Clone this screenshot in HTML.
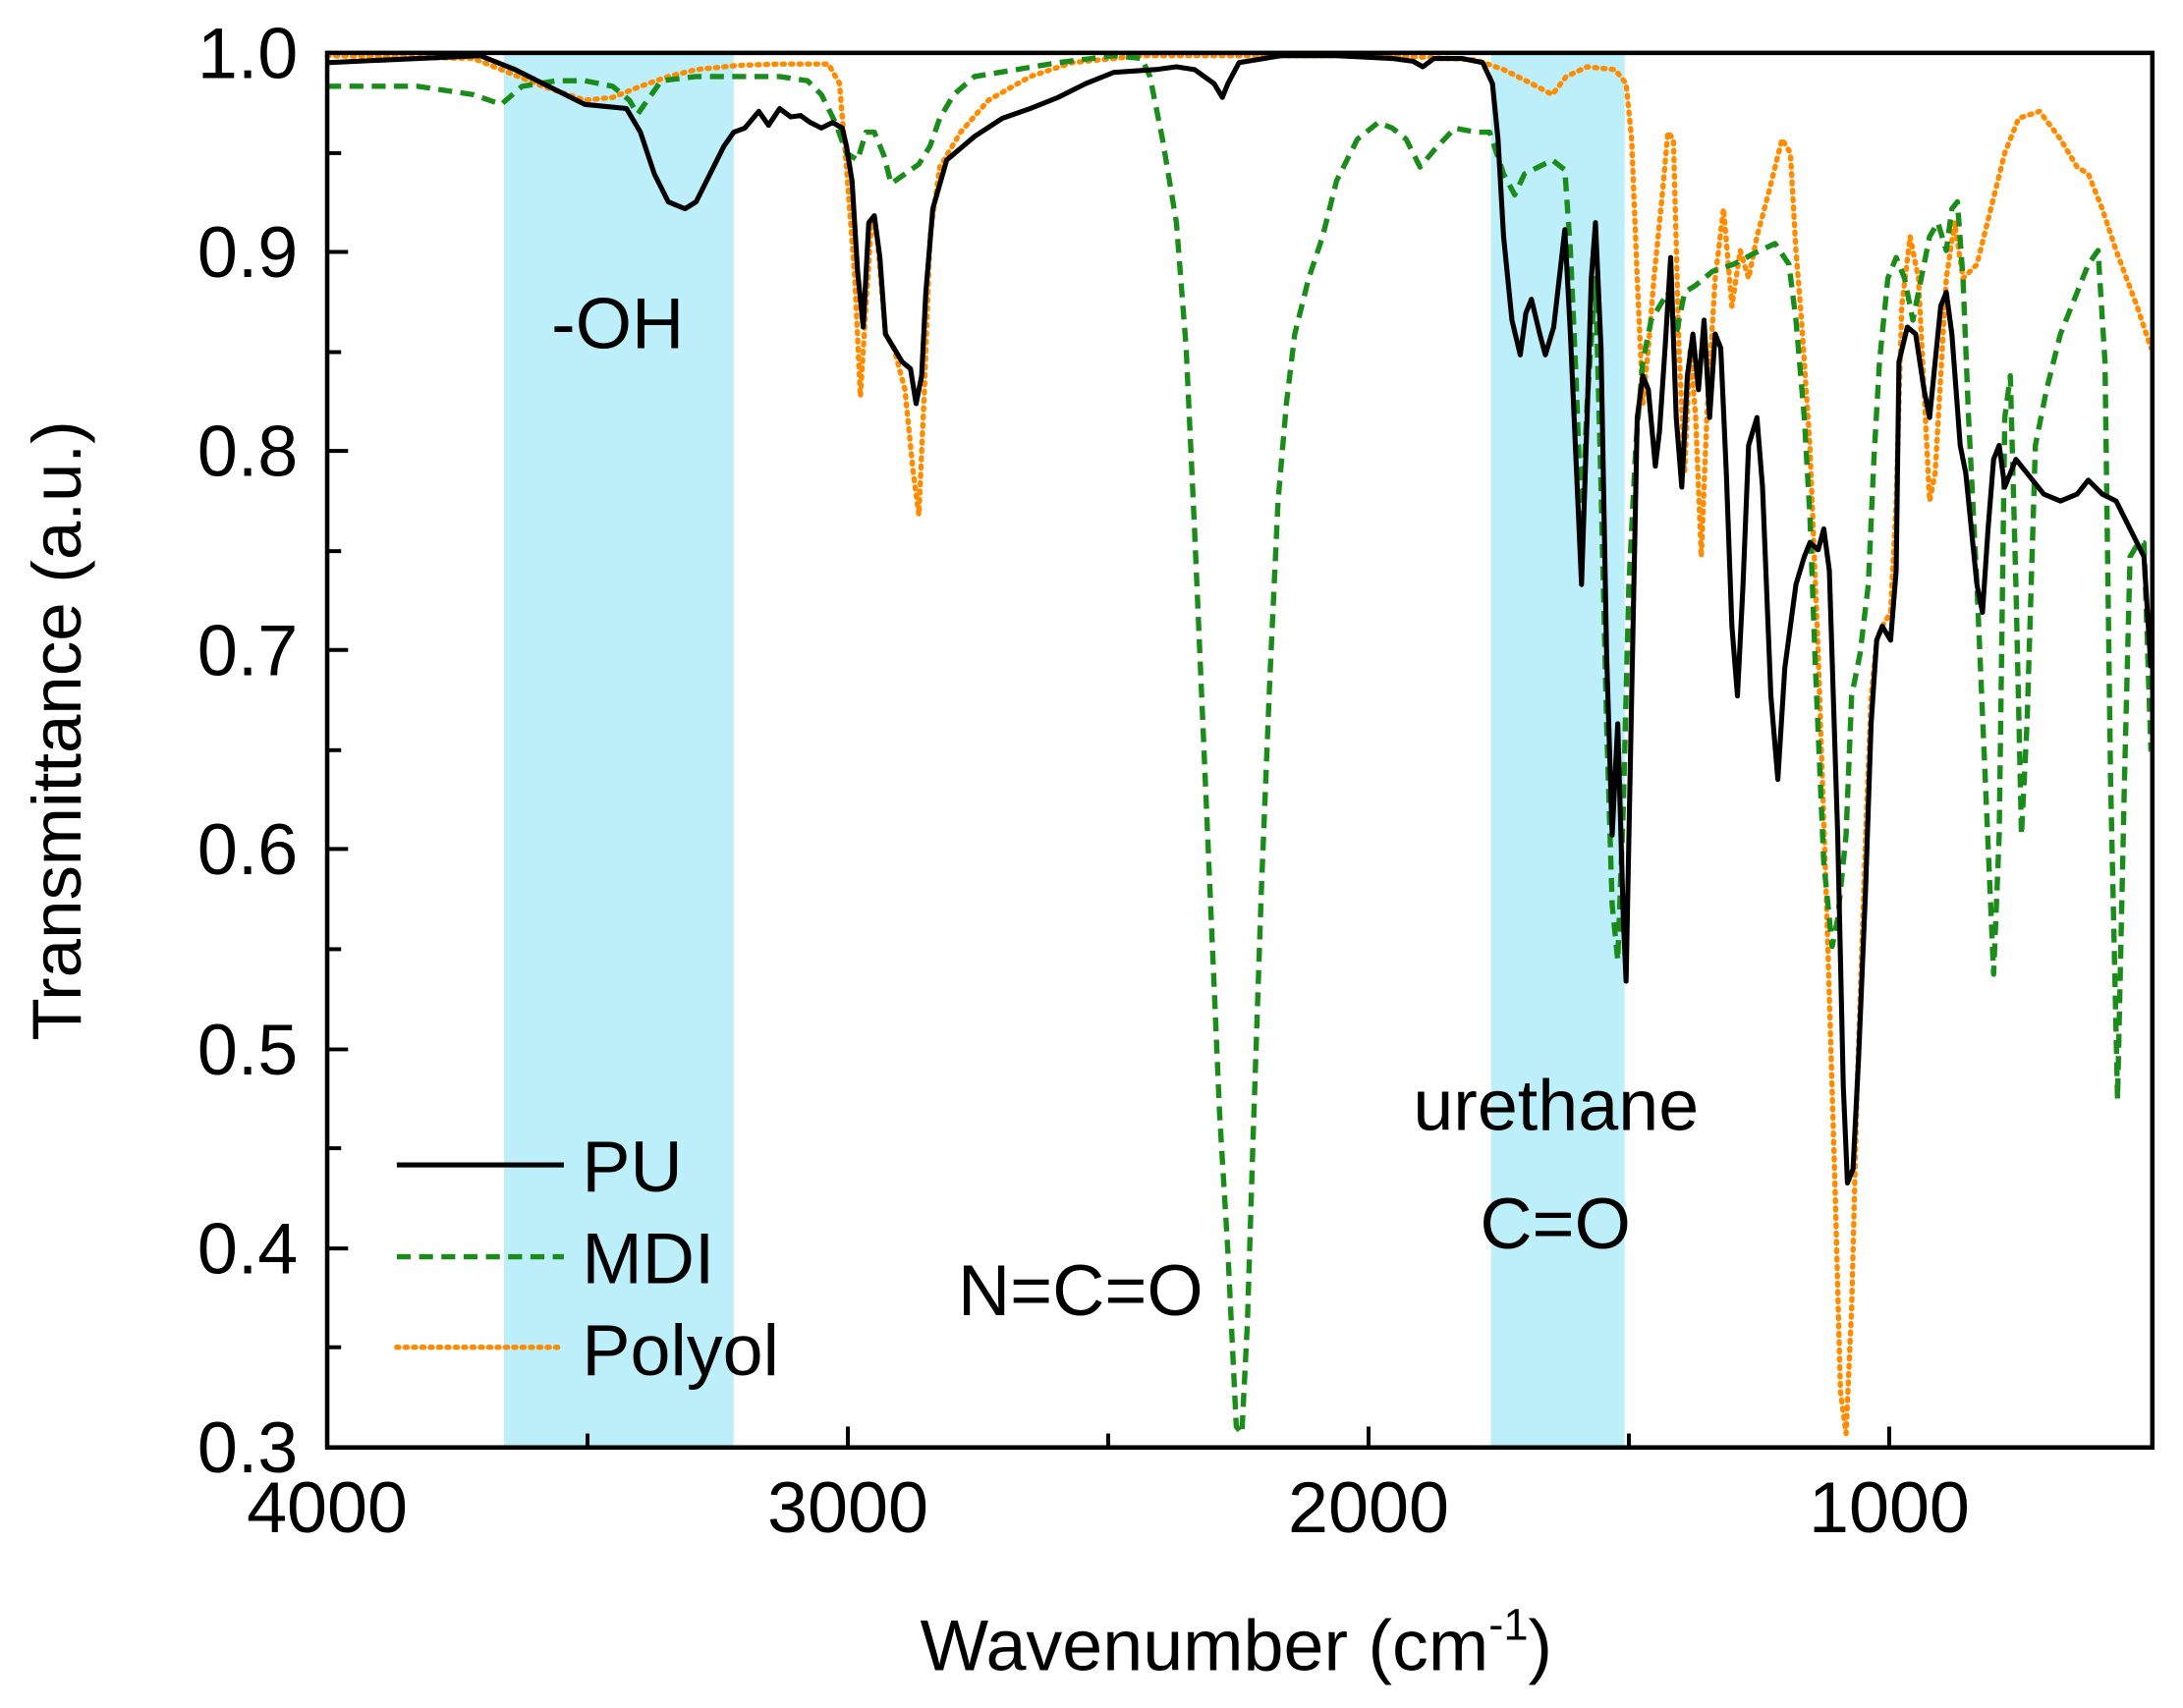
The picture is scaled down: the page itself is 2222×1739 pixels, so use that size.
<!DOCTYPE html>
<html><head><meta charset="utf-8"><style>html,body{margin:0;padding:0;background:#fff}svg{display:block}</style></head>
<body>
<svg width="2222" height="1739" viewBox="0 0 1568 1227.2" xmlns="http://www.w3.org/2000/svg" font-family="Liberation Sans, Arial, sans-serif">
<rect x="0" y="0" width="1568" height="1228" fill="#fff"/>
<rect x="362" y="38" width="165" height="1002" fill="#bdeffb"/>
<rect x="1071" y="38" width="96" height="1002" fill="#bdeffb"/>
<g fill="none" stroke-linejoin="round">
<polyline stroke="#ff8c00" stroke-width="3.8" stroke-dasharray="1.5,4.5" stroke-linecap="round" points="235,40 340,42 360,50 390,62 420,72 440,70 460,62 480,55 500,50 530,47 560,46 595,46 603,60 608,120 614,200 618,285 622,220 626,160 630,170 636,240 642,250 650,280 656,340 660,370 664,280 668,170 675,120 690,95 710,72 740,55 770,45 820,40 900,40 1000,40 1060,43 1080,50 1100,60 1115,68 1125,55 1140,48 1160,50 1168,60 1172,100 1176,200 1180,290 1184,250 1188,200 1194,140 1198,95 1202,100 1206,250 1210,340 1214,250 1218,300 1222,400 1226,300 1232,200 1238,150 1244,220 1250,180 1256,200 1262,170 1270,140 1280,100 1286,110 1290,180 1294,230 1300,320 1306,470 1312,650 1318,850 1322,1000 1326,1030 1330,940 1334,780 1340,600 1344,500 1348,460 1352,450 1358,440 1362,360 1366,220 1372,170 1378,200 1382,280 1386,360 1390,340 1394,270 1398,200 1404,160 1410,200 1420,190 1430,150 1440,110 1450,85 1465,80 1480,100 1492,120 1500,125 1510,150 1520,180 1535,220 1545,250"/>
<polyline stroke="#1a8c1a" stroke-width="3.8" stroke-dasharray="10,6" points="235,62 300,62 340,68 360,75 375,62 400,58 420,58 440,62 452,72 458,82 465,72 475,58 500,55 560,55 580,58 590,68 600,88 608,110 616,115 622,95 628,95 635,112 640,132 650,125 660,118 668,105 675,85 685,68 700,55 730,50 760,45 800,40 820,42 826,55 835,100 845,160 852,250 858,380 864,520 870,660 876,800 882,900 888,1025 892,1030 896,950 900,820 906,640 912,490 918,360 924,290 930,240 940,200 950,170 960,130 975,100 990,88 1000,92 1010,100 1020,120 1030,108 1045,92 1060,95 1070,95 1075,110 1080,125 1088,140 1095,125 1105,120 1115,115 1124,122 1128,180 1132,270 1136,380 1140,290 1146,200 1150,350 1154,520 1158,650 1162,690 1166,580 1170,420 1175,320 1180,260 1186,230 1192,220 1198,210 1204,240 1210,210 1218,205 1230,195 1245,190 1260,182 1275,175 1285,190 1290,230 1296,300 1300,370 1304,480 1310,620 1316,680 1320,660 1326,600 1330,500 1336,470 1342,420 1346,330 1350,260 1356,200 1362,185 1368,200 1374,230 1380,200 1386,170 1392,160 1398,180 1402,150 1406,145 1410,200 1414,300 1420,420 1426,560 1432,700 1436,600 1440,300 1444,270 1448,420 1452,600 1456,520 1462,320 1470,280 1480,240 1492,210 1500,190 1507,180 1512,260 1516,560 1521,790 1526,560 1530,400 1536,390 1540,390 1545,540"/>
<polyline stroke="#000" stroke-width="3.6" points="235,45 300,42 345,40 370,50 400,65 420,75 450,78 460,95 470,125 480,145 492,150 500,145 510,125 520,105 527,95 535,92 545,80 552,90 560,78 568,84 575,83 582,88 590,92 598,88 605,92 608,105 612,130 616,195 620,235 624,160 628,155 632,185 636,240 642,250 648,260 654,265 658,290 662,270 665,210 670,150 680,115 700,98 720,85 740,78 760,70 780,60 800,52 830,50 845,48 858,50 865,55 872,60 878,70 882,60 890,45 920,40 960,40 1000,42 1015,44 1022,48 1030,42 1050,42 1065,45 1072,60 1076,100 1080,170 1086,230 1092,255 1096,225 1100,215 1106,240 1110,255 1116,235 1120,200 1124,165 1128,240 1132,330 1136,420 1140,300 1143,200 1146,160 1150,250 1154,470 1158,600 1162,520 1166,660 1168,705 1172,500 1176,300 1180,270 1184,280 1189,335 1192,310 1196,250 1200,185 1204,300 1208,350 1212,270 1216,240 1220,280 1224,230 1228,300 1232,240 1236,250 1240,340 1244,450 1248,500 1252,420 1256,320 1262,300 1266,350 1272,500 1277,560 1282,480 1290,420 1296,400 1300,390 1306,395 1310,380 1314,410 1320,600 1324,780 1327,850 1331,840 1335,760 1340,640 1344,520 1348,460 1352,450 1358,460 1362,410 1364,260 1370,235 1376,240 1382,280 1386,300 1390,260 1394,220 1398,210 1402,240 1408,320 1412,340 1416,380 1420,420 1424,440 1428,380 1432,330 1436,320 1440,350 1444,340 1448,330 1456,340 1468,355 1480,360 1492,355 1500,345 1510,355 1520,360 1530,380 1540,400 1545,480"/>
</g>
<rect x="235" y="38" width="1311" height="1002" fill="none" stroke="#000" stroke-width="3.2"/>
<g stroke="#000" stroke-width="2.8">
<line x1="235" y1="181" x2="250" y2="181"/><line x1="235" y1="324" x2="250" y2="324"/><line x1="235" y1="467" x2="250" y2="467"/><line x1="235" y1="610" x2="250" y2="610"/><line x1="235" y1="754" x2="250" y2="754"/><line x1="235" y1="897" x2="250" y2="897"/>
<line x1="235" y1="110" x2="245" y2="110"/><line x1="235" y1="253" x2="245" y2="253"/><line x1="235" y1="396" x2="245" y2="396"/><line x1="235" y1="539" x2="245" y2="539"/><line x1="235" y1="682" x2="245" y2="682"/><line x1="235" y1="825" x2="245" y2="825"/><line x1="235" y1="968" x2="245" y2="968"/>
<line x1="609" y1="1040" x2="609" y2="1025"/><line x1="983" y1="1040" x2="983" y2="1025"/><line x1="1357" y1="1040" x2="1357" y2="1025"/>
<line x1="422" y1="1040" x2="422" y2="1030"/><line x1="796" y1="1040" x2="796" y2="1030"/><line x1="1170" y1="1040" x2="1170" y2="1030"/>
</g>
<g font-size="52" fill="#000" text-anchor="end">
<text x="214" y="56">1.0</text><text x="214" y="199">0.9</text><text x="214" y="342">0.8</text><text x="214" y="485">0.7</text><text x="214" y="628">0.6</text><text x="214" y="772">0.5</text><text x="214" y="915">0.4</text><text x="214" y="1058">0.3</text>
</g>
<g font-size="52" fill="#000" text-anchor="middle">
<text x="235" y="1101">4000</text><text x="609" y="1101">3000</text><text x="983" y="1101">2000</text><text x="1357" y="1101">1000</text>
</g>
<text x="888" y="1200" font-size="52" text-anchor="middle">Wavenumber (cm<tspan font-size="32" dy="-22">-1</tspan><tspan dy="22">)</tspan></text>
<text transform="translate(58,525) rotate(-90)" font-size="50" text-anchor="middle">Transmittance (a.u.)</text>
<line x1="285" y1="837" x2="405" y2="837" stroke="#000" stroke-width="3.6"/>
<line x1="285" y1="903" x2="405" y2="903" stroke="#1a8c1a" stroke-width="3.8" stroke-dasharray="10,6"/>
<line x1="285" y1="968" x2="405" y2="968" stroke="#ff8c00" stroke-width="3.8" stroke-dasharray="1.5,4.5" stroke-linecap="round"/>
<g font-size="52" fill="#000">
<text x="418" y="856">PU</text><text x="418" y="922">MDI</text><text x="418" y="988">Polyol</text>
<text x="396" y="250">-OH</text>
<text x="1015" y="812">urethane</text>
<text x="1063" y="897">C=O</text>
<text x="688" y="945">N=C=O</text>
</g>
</svg>
</body></html>
